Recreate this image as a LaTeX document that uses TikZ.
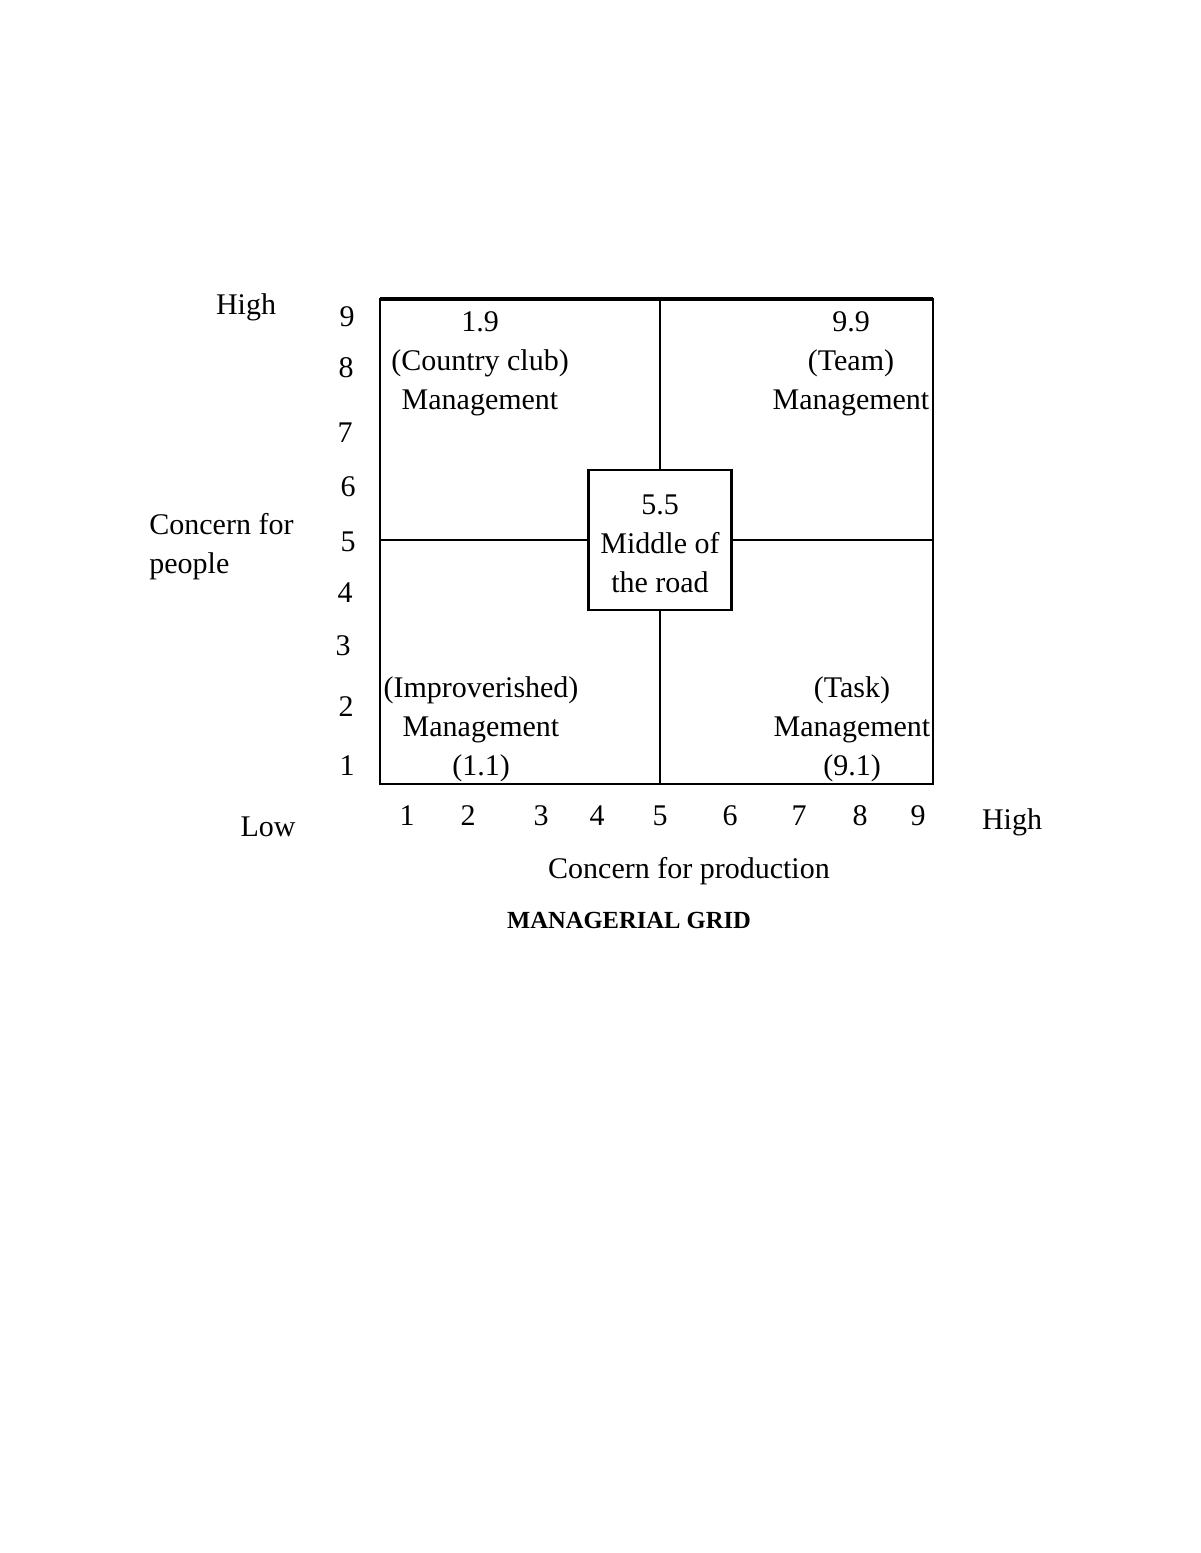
\documentclass[tikz,border=0pt]{standalone}
\usepackage{fontspec}
\setmainfont{Liberation Serif}
\begin{document}
\begin{tikzpicture}[x=0.5pt,y=-0.5pt,
  lbl/.style={font=\fontsize{15}{19.5}\selectfont, inner sep=0pt, align=center},
  num/.style={font=\fontsize{15}{18}\selectfont, inner sep=0pt},
  gridline/.style={line width=1.2pt, black},
  midbox/.style={draw, line width=1.2pt, minimum width=71.5pt, minimum height=70pt, inner sep=0pt, align=center, font=\fontsize{15}{19.5}\selectfont}]
\useasboundingbox[fill=white] (0,0) rectangle (1200,1553);
% outer grid corners
\coordinate (tl) at (380,299);
\coordinate (tr) at (933,299);
\coordinate (bl) at (380,784);
\coordinate (br) at (933,784);
\draw[gridline] (tl) -- (tr) -- (br) -- (bl) -- cycle;
\draw[line width=1.6pt] (tl) -- (tr);
% centre box
\node[midbox, text depth=0pt] (mid) at (660,540) {};
\node[lbl] (midtxt) at (660,544) {5.5\\Middle of\\the road};
\coordinate (tm) at (mid.north |- tl);
\coordinate (bm) at (mid.south |- bl);
\coordinate (lm) at (mid.west -| tl);
\coordinate (rm) at (mid.east -| tr);
\draw[gridline] (tm) -- (mid.north);
\draw[gridline] (mid.south) -- (bm);
\draw[gridline] (lm) -- (mid.west);
\draw[gridline] (mid.east) -- (rm);
% quadrant labels
\node[lbl] (q19) at (480,364) {1.9\\(Country club)\\Management};
\node[lbl] (q99) at (851,364) {9.9\\(Team)\\Management};
\node[lbl] (q11) at (481,729) {(Improverished)\\Management\\(1.1)};
\node[lbl] (q91) at (852,729) {(Task)\\Management\\(9.1)};
% y axis numbers
\node[num] (y9) at (347,317) {9};
\node[num] (y8) at (346,368) {8};
\node[num] (y7) at (345,433) {7};
\node[num] (y6) at (348,487) {6};
\node[num] (y5) at (348,542) {5};
\node[num] (y4) at (345,593) {4};
\node[num] (y3) at (343,646) {3};
\node[num] (y2) at (346,707) {2};
\node[num] (y1) at (347,766) {1};
% x axis numbers
\node[num] (x1) at (407,816) {1};
\node[num] (x2) at (468,816) {2};
\node[num] (x3) at (541,816) {3};
\node[num] (x4) at (597,816) {4};
\node[num] (x5) at (660,816) {5};
\node[num] (x6) at (730,816) {6};
\node[num] (x7) at (799,816) {7};
\node[num] (x8) at (860,816) {8};
\node[num] (x9) at (918,816) {9};
% axis labels
\node[lbl] (yhigh) at (246,307) {High};
\node[lbl, anchor=west, align=left] (ylab) at (149,547) {Concern for\\people};
\node[lbl] (low) at (268,827) {Low};
\node[lbl] (xhigh) at (1012,822) {High};
\node[lbl] (xlab) at (689,871) {Concern for production};
\node[font=\fontsize{12.3}{14}\selectfont\bfseries, inner sep=0pt] (title) at (629,920) {MANAGERIAL GRID};
\end{tikzpicture}
\end{document}
